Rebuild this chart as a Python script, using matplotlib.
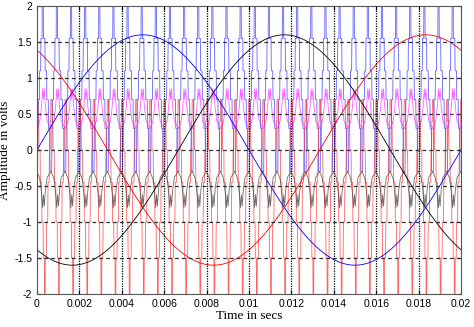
import numpy as np
import matplotlib
matplotlib.use('Agg')
import matplotlib.pyplot as plt

# three phase references
amp = 1.6
freq = 50.0
phases_deg = [0, -120, 120]          # blue, black, red
ref_colors = ['blue', 'black', 'red']

# carrier-like signals: 30 cycles over 0.02 s, one cycle shape as (phase, value)
n_cycles = 30
blue_shape = [(0.00, -0.30), (0.04, -0.30), (0.06, 0.30), (0.08, 0.30), (0.10, 0.70),
              (0.17, 0.70), (0.19, 1.10), (0.26, 1.10), (0.28, 1.55), (0.36, 1.55),
              (0.37, 2.00), (0.45, 2.00), (0.46, 1.55), (0.56, 1.55), (0.58, 1.10),
              (0.68, 1.10), (0.70, 0.70), (0.80, 0.70), (0.82, 0.30), (0.90, 0.30),
              (0.92, -0.30), (1.00, -0.30)]
red_shape = [(0.00, 0.70), (0.06, 0.70), (0.08, 0.40), (0.12, 0.40), (0.14, 0.00),
             (0.22, 0.00), (0.24, -0.45), (0.33, -0.45), (0.35, -1.00), (0.43, -1.00),
             (0.45, -1.50), (0.52, -1.50), (0.53, -2.00), (0.58, -2.00), (0.59, -1.50),
             (0.66, -1.50), (0.68, -1.00), (0.76, -1.00), (0.78, -0.45), (0.86, -0.45),
             (0.88, 0.00), (0.92, 0.00), (0.94, 0.40), (0.97, 0.40), (0.98, 0.70),
             (1.00, 0.70)]
magenta_shape = [(0.00, 0.30), (0.20, 0.40), (0.32, 0.60), (0.40, 0.85), (0.46, 0.70),
                 (0.52, 0.85), (0.60, 0.60), (0.72, 0.40), (1.00, 0.30)]
black_shape = [(0.00, -0.30), (0.20, -0.40), (0.32, -0.60), (0.40, -0.80), (0.46, -0.62),
               (0.52, -0.78), (0.60, -0.55), (0.72, -0.38), (1.00, -0.30)]
carrier_shapes = [blue_shape, red_shape, magenta_shape, black_shape]
carrier_colors = ['#2020ff', '#ff2020', '#ff20ff', '#303030']

xticks = [0, 0.002, 0.004, 0.006, 0.008, 0.01, 0.012, 0.014, 0.016, 0.018, 0.02]
xticklabels = ['0', '0.002', '0.004', '0.006', '0.008', '0.01', '0.012', '0.014', '0.016', '0.018', '0.02']
yticks = [-2, -1.5, -1, -0.5, 0, 0.5, 1, 1.5, 2]
yticklabels = ['-2', '-1.5', '-1', '-0.5', '0', '0.5', '1', '1.5', '2']

t_end = 0.02
Tc = t_end / n_cycles


def carrier(shape):
    ph = np.array([p for p, v in shape])
    val = np.array([v for p, v in shape])
    ts = np.concatenate([(k + ph) * Tc for k in range(n_cycles)])
    vs = np.tile(val, n_cycles)
    return ts, vs


fig = plt.figure(figsize=(4.74, 3.27), dpi=100)
ax = fig.add_axes([0.078, 0.101, 0.8946, 0.8806])

for shape, c in zip(carrier_shapes, carrier_colors):
    ts, vs = carrier(shape)
    ax.plot(ts, vs, color=c, lw=0.6, alpha=0.7)

t = np.linspace(0, t_end, 600)
for ph, c in zip(phases_deg, ref_colors):
    ax.plot(t, amp * np.sin(2 * np.pi * freq * t + np.deg2rad(ph)), color=c, lw=0.6)

ax.set_xlim(0, t_end)
ax.set_ylim(-2, 2)
ax.set_xticks(xticks)
ax.set_xticklabels(xticklabels)
ax.set_yticks(yticks)
ax.set_yticklabels(yticklabels)
for y in yticks[1:-1]:
    ax.axhline(y, color='#333333', lw=0.9, ls=(0, (3, 2.5)), zorder=3)
for x in xticks[1:-1]:
    ax.axvline(x, color='black', lw=0.9, ls=(0, (1, 1)), zorder=3)

ax.tick_params(direction='in', top=True, right=True, labelsize=7.5, length=3,
               labelfontfamily='Liberation Sans')
for s in ax.spines.values():
    s.set_color('#555555')
ax.set_xlabel('Time in secs', family='Liberation Serif', fontsize=9.5, labelpad=1)
ax.set_ylabel('Amplitude in volts', family='Liberation Serif', fontsize=9.5, labelpad=2)

fig.savefig('out.png', dpi=100)
